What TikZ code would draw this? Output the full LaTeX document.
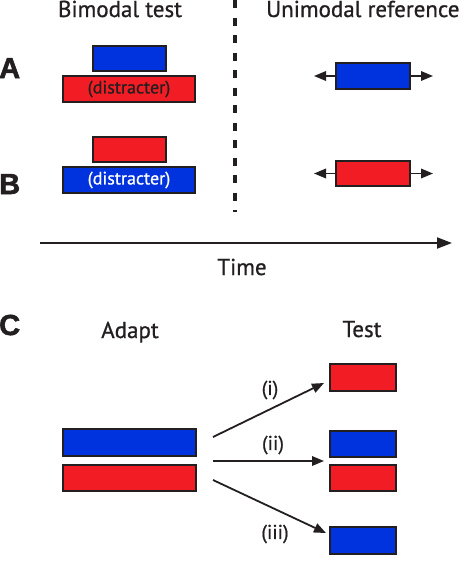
\documentclass[tikz,border=0pt]{standalone}
\usepackage{fontspec}
\setmainfont{PT Sans}[FakeBold=0.8]
\newfontfamily\panelfont{Liberation Sans}[BoldFeatures={FakeBold=2}]
\usepackage{tikz}
\usetikzlibrary{arrows.meta}
\definecolor{ink}{HTML}{231F20}
\definecolor{boxblue}{HTML}{0033DD}
\definecolor{boxred}{HTML}{F21C24}
\tikzset{
  bar/.style={draw=ink, line width=1.4pt, inner sep=0pt, minimum height=26pt},
  bluebar/.style={bar, fill=boxblue},
  redbar/.style={bar, fill=boxred},
  shortbar/.style={minimum width=73pt},
  longbar/.style={minimum width=132pt},
  testbar/.style={minimum width=66pt},
  head/.style={text=ink, font=\fontsize{23}{25}\selectfont, inner sep=0pt},
  panel/.style={text=ink, font=\panelfont\bfseries\fontsize{29}{31}\selectfont, inner sep=0pt},
  note/.style={font=\fontsize{18}{20}\selectfont},
  roman/.style={text=ink, inner sep=0pt, font=\fontsize{20}{22}\selectfont},
  arr/.style={draw=ink, line width=1.8pt, -{Triangle[length=12pt,width=9.5pt]}},
}

\begin{document}
\begin{tikzpicture}[x=1pt,y=-1pt]
  \useasboundingbox (0,0) rectangle (474,571);
  % headings
  \node[head,anchor=base] (bim) at (120,17) {Bimodal test};
  \node[head,anchor=base west] (uni) at (266,17) {Unimodal reference};
  \node[panel,anchor=base west] (la) at (-1,78) {A};
  \node[panel,anchor=base west] (lb) at (-1,194) {B};
  \node[panel,anchor=base west] (lc) at (-1,335) {C};
  % bimodal test
  \node[bluebar,shortbar,minimum height=25pt] (blueA) at (129.5,58.5) {};
  \node[redbar,longbar,note,text=ink] (redA) at (129,89) {(distracter)};
  \node[redbar,shortbar,minimum height=25pt] (redB) at (129.5,149.5) {};
  \node[bluebar,longbar,note,text=white] (blueB) at (129,180) {(distracter)};
  % divider
  \coordinate (d0) at (235,0);
  \coordinate (d1) at (235,212);
  \draw[ink, line width=4pt, dash pattern=on 8pt off 9.5pt] (d0) -- (d1);
  % unimodal reference
  \node[bluebar,minimum width=74pt] (refBlue) at (373,76) {};
  \node[redbar,minimum width=74pt,minimum height=25pt] (refRed) at (373,173.5) {};
  \coordinate (rbL) at (314,76);
  \coordinate (rbR) at (433,76);
  \coordinate (rrL) at (314,173.5);
  \coordinate (rrR) at (433,173.5);
  \draw[arr] (refBlue.west) -- (rbL);
  \draw[arr] (refBlue.east) -- (rbR);
  \draw[arr] (refRed.west) -- (rrL);
  \draw[arr] (refRed.east) -- (rrR);
  % time axis
  \coordinate (t0) at (40,243);
  \coordinate (t1) at (452,243);
  \draw[ink, line width=2pt, -{Triangle[length=15pt,width=11pt]}] (t0) -- (t1);
  \node[head,anchor=base] (time) at (242,275) {Time};
  % panel C
  \node[head,anchor=base] (adapt) at (130,338) {Adapt};
  \node[head,anchor=base] (test) at (362,337) {Test};
  \node[bluebar,minimum width=133pt,minimum height=27pt] (adBlue) at (129.5,442.5) {};
  \node[redbar,minimum width=133pt] (adRed) at (129.5,478) {};
  \node[redbar,testbar,minimum height=27pt] (tsR1) at (363,377.5) {};
  \node[bluebar,testbar] (tsB2) at (363,444) {};
  \node[redbar,testbar] (tsR2) at (363,478) {};
  \node[bluebar,testbar,minimum height=27pt] (tsB3) at (363,540.5) {};
  \coordinate (s1) at (213,437);
  \coordinate (s2) at (213,461);
  \coordinate (s3) at (213,480);
  \coordinate (e1) at (324,383);
  \coordinate (e2) at (324,461);
  \coordinate (e3) at (326,533);
  \draw[arr] (s1) -- (e1);
  \draw[arr] (s2) -- (e2);
  \draw[arr] (s3) -- (e3);
  \node[roman] (ci) at (270,390) {(i)};
  \node[roman] (cii) at (273,445) {(ii)};
  \node[roman] (ciii) at (275,534) {(iii)};
\end{tikzpicture}
\end{document}
